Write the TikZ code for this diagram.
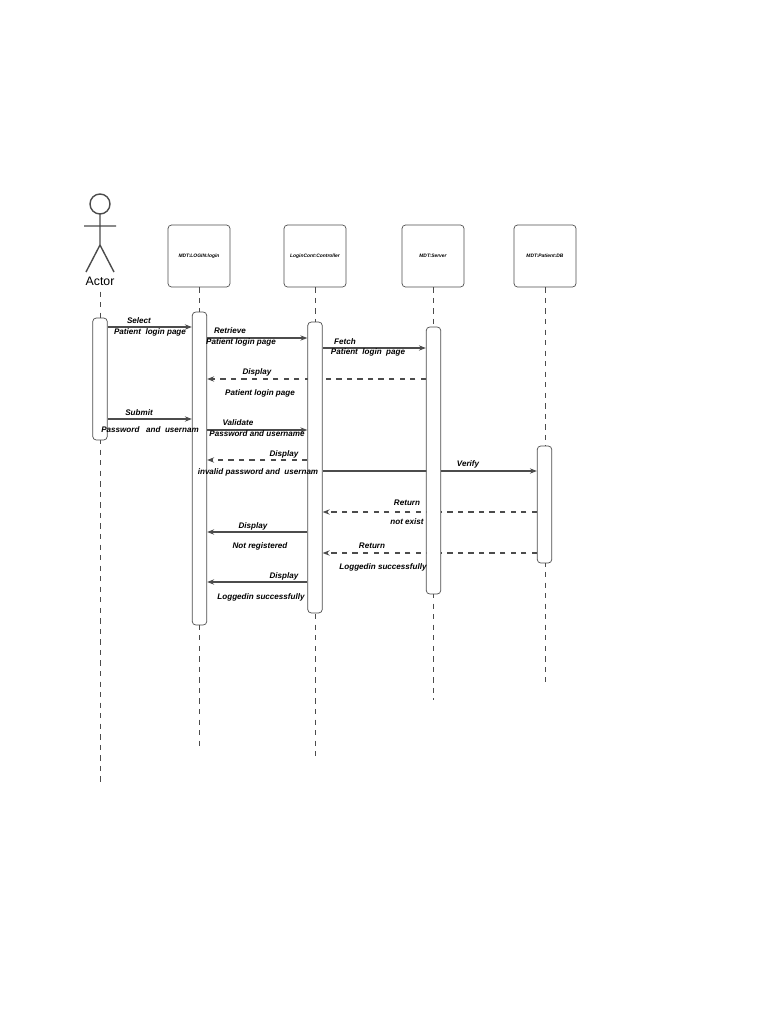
\documentclass[tikz,border=0pt]{standalone}
\usepackage{fontspec}
\setmainfont{Liberation Sans}
\usetikzlibrary{arrows.meta,positioning,backgrounds}
\tikzset{
  obj/.style={draw=black!70, rounded corners=2pt, minimum width=1.24cm, minimum height=1.24cm, inner sep=0pt, font=\fontsize{2.8}{3}\selectfont\bfseries\itshape},
  act/.style={draw=black!70, rounded corners=2pt, fill=white, minimum width=0.29cm, inner sep=0pt},
  life/.style={dashed, black!70, thin},
  msg/.style={-{Stealth[length=4pt]}, black!70, thick},
  ret/.style={-{Stealth[length=4pt]}, black!70, dashed, thick},
  lbl/.style={font=\fontsize{4.6}{5}\selectfont\bfseries\itshape}
}
\begin{document}
\begin{tikzpicture}[x=0.02cm, y=-0.02cm]
  \useasboundingbox (0,0) rectangle (768,1024);
  % objects
  \node[obj] (login) at (199,256) {MDT:LOGIN:login};
  \node[obj] (ctrl) at (315,256) {LoginCont:Controller};
  \node[obj] (server) at (433,256) {MDT:Server};
  \node[obj] (db) at (545,256) {MDT:Patient:DB};
  % actor
  \draw[black!70, thick] (100,204) circle (10);
  \draw[black!70, thick] (100,214) -- (100,245) (84,226) -- (116,226)
    (100,245) -- (86,272) (100,245) -- (114,272);
  \node[font=\scriptsize] (actor) at (100,281) {Actor};
  % lifelines
  \coordinate (aEnd) at (100,782);
  \coordinate (lEnd) at (199,748);
  \coordinate (cEnd) at (315,760);
  \coordinate (sEnd) at (433,700);
  \coordinate (dEnd) at (545,682);
  \draw[life] (actor.south) -- (aEnd);
  \draw[life] (login.south) -- (lEnd);
  \draw[life] (ctrl.south) -- (cEnd);
  \draw[life] (server.south) -- (sEnd);
  \draw[life] (db.south) -- (dEnd);
  % activations
  \node[act, minimum height=2.44cm] (aA) at (100,379) {};
  \node[act, minimum height=6.26cm] (lA) at (199.5,468.5) {};
  \node[act, minimum height=5.82cm] (cA) at (315,467.5) {};
  \node[act, minimum height=5.34cm] (sA) at (433.5,460.5) {};
  \node[act, minimum height=2.34cm] (dA) at (544.5,504.5) {};
  % messages
  \begin{scope}[on background layer]
  \draw[msg] (aA.east |- 0,327) -- (lA.west |- 0,327);
  \draw[msg] (lA.east |- 0,338) -- (cA.west |- 0,338);
  \draw[msg] (cA.east |- 0,348) -- (sA.west |- 0,348);
  \draw[ret] (sA.west |- 0,379) -- (lA.east |- 0,379);
  \draw[msg] (aA.east |- 0,419) -- (lA.west |- 0,419);
  \draw[msg] (lA.east |- 0,430) -- (cA.west |- 0,430);
  \draw[ret] (cA.west |- 0,460) -- (lA.east |- 0,460);
  \draw[msg] (cA.east |- 0,471) -- (dA.west |- 0,471);
  \draw[ret] (dA.west |- 0,512) -- (cA.east |- 0,512);
  \draw[msg] (cA.west |- 0,532) -- (lA.east |- 0,532);
  \draw[ret] (dA.west |- 0,553) -- (cA.east |- 0,553);
  \draw[msg] (cA.west |- 0,582) -- (lA.east |- 0,582);
  \end{scope}
  % labels
  \node[lbl] at (139,321) {Select};
  \node[lbl] at (150,332) {Patient\ \ login page};
  \node[lbl] at (230,331) {Retrieve};
  \node[lbl] at (241,342) {Patient login page};
  \node[lbl] at (345,342) {Fetch};
  \node[lbl] at (368,352) {Patient\ \ login\ \ page};
  \node[lbl] at (257,372) {Display};
  \node[lbl] at (260,393) {Patient login page};
  \node[lbl] at (139,413) {Submit};
  \node[lbl] at (150,430) {Password\ \ \ and\ \ usernam};
  \node[lbl] at (238,423) {Validate};
  \node[lbl] at (257,434) {Password and username};
  \node[lbl] at (284,454) {Display};
  \node[lbl] at (258,472) {invalid password and\ \ usernam};
  \node[lbl] at (468,464) {Verify};
  \node[lbl] at (407,503) {Return};
  \node[lbl] at (407,522) {not exist};
  \node[lbl] at (253,526) {Display};
  \node[lbl] at (260,546) {Not registered};
  \node[lbl] at (372,546) {Return};
  \node[lbl] at (383,567) {Loggedin successfully};
  \node[lbl] at (284,576) {Display};
  \node[lbl] at (261,597) {Loggedin successfully};
\end{tikzpicture}
\end{document}
